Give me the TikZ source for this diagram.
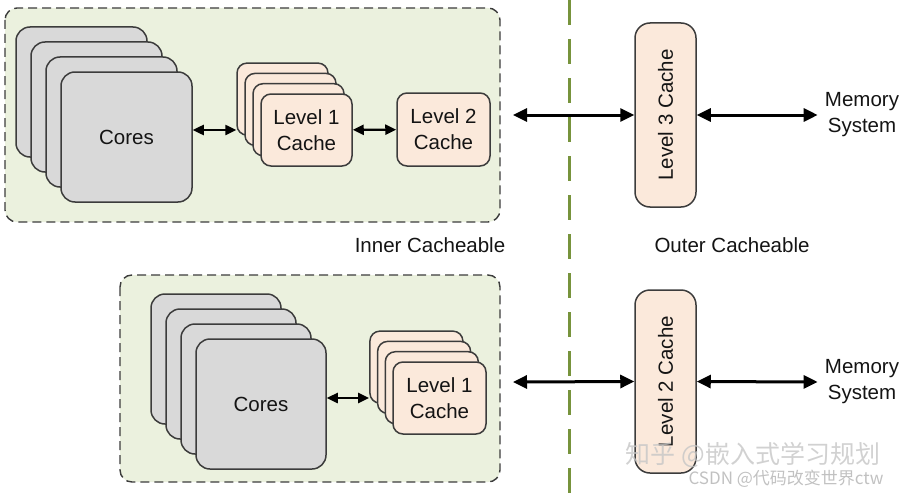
\documentclass[tikz,border=0pt]{standalone}
\usepackage{fontspec}
\setmainfont{Liberation Sans}
\newfontfamily\cjk{Noto Sans CJK SC}
\usetikzlibrary{arrows.meta}
\definecolor{edge}{RGB}{60,60,60}
\definecolor{ink}{RGB}{20,20,20}
\definecolor{regionfill}{RGB}{235,241,222}
\definecolor{corefill}{RGB}{217,217,217}
\definecolor{cachefill}{RGB}{251,233,219}
\definecolor{olive}{RGB}{119,147,60}

\begin{document}
\begin{tikzpicture}[x=1pt,y=-1pt,semithick,text=ink,
  font=\fontsize{20.5}{26}\selectfont,
  region/.style={draw=edge,fill=regionfill,line width=1.4pt,dash pattern=on 9pt off 5pt,rounded corners=12pt},
  core/.style={draw=edge,fill=corefill,line width=1.5pt,rounded corners=14pt,minimum width=131pt,minimum height=130pt,inner sep=0pt},
  cache/.style={draw=edge,fill=cachefill,line width=1.5pt,rounded corners=10pt,inner sep=0pt,align=center},
  memory/.style={align=center,inner xsep=7pt},
  link/.style={{Triangle[length=11pt,width=10pt]}-{Triangle[length=11pt,width=10pt]},line width=2.4pt},
  buslink/.style={{Triangle[length=14pt,width=13pt]}-{Triangle[length=14pt,width=13pt]},line width=3pt}]
\useasboundingbox (0,0) rectangle (912,495);
\draw[region] (5,8) rectangle (500,222);
\draw[region] (120,275) rectangle (500,482);
\draw[olive,line width=3pt,dash pattern=on 25pt off 14pt] (569,0) -- (569,495);
\foreach \k in {3,2,1} \node[core] (corestop\k) at (126.5-15*\k,137-15*\k) {};
\node[core] (corestop) at (126.5,137) {Cores};
\foreach \k in {3,2,1} \node[cache,minimum width=91pt,minimum height=72pt] (ltop\k) at (306.5-8*\k,130-10.3*\k) {};
\node[cache,minimum width=91pt,minimum height=72pt] (ltop) at (306.5,130) {Level 1\\Cache};
\node[cache,minimum width=93pt,minimum height=73pt] (lltop) at (443.5,129.5) {Level 2\\Cache};
\node[cache,rotate=90,minimum width=184pt,minimum height=61pt,rounded corners=15pt] (lllcache) at (665.5,115) {Level 3 Cache};
\node[memory] (memtop) at (862,115) {Memory\\System};
\coordinate (innertop) at (513,115);
\draw[link] (corestop.east |- ltop) -- (ltop3.west |- ltop);
\draw[link] (ltop) -- (lltop);
\draw[buslink] (innertop) -- (lllcache.north);
\draw[buslink] (lllcache.south) -- (memtop.west);
\node (inner) at (430,245) {Inner Cacheable};
\node (outer) at (732,245) {Outer Cacheable};
\foreach \k in {3,2,1} \node[core,minimum width=130pt] (coresbot\k) at (261-15*\k,404-15*\k) {};
\node[core,minimum width=130pt] (coresbot) at (261,404) {Cores};
\foreach \k in {3,2,1} \node[cache,minimum width=93pt,minimum height=72pt] (lbot\k) at (439.5-7.7*\k,398-10.3*\k) {};
\node[cache,minimum width=93pt,minimum height=72pt] (lbot) at (439.5,398) {Level 1\\Cache};
\node[cache,rotate=90,minimum width=183pt,minimum height=61pt,rounded corners=15pt] (llcache) at (665.5,381.5) {Level 2 Cache};
\node[memory] (membot) at (862,382) {Memory\\System};
\coordinate (innerbot) at (513,382);
\draw[link] (coresbot.east |- lbot) -- (lbot3.west |- lbot);
\draw[buslink] (innerbot) -- (llcache.north);
\draw[buslink] (llcache.south) -- (membot.west);
\node[font=\cjk\fontsize{25}{27}\selectfont,text=gray!45,opacity=0.8,inner sep=0pt] (zhihu) at (753,455) {知乎 @嵌入式学习规划};
\node[font=\cjk\fontsize{17}{19}\selectfont,text=gray!60,opacity=0.8,inner sep=0pt] (csdn) at (786,479) {CSDN @代码改变世界ctw};
\end{tikzpicture}
\end{document}
